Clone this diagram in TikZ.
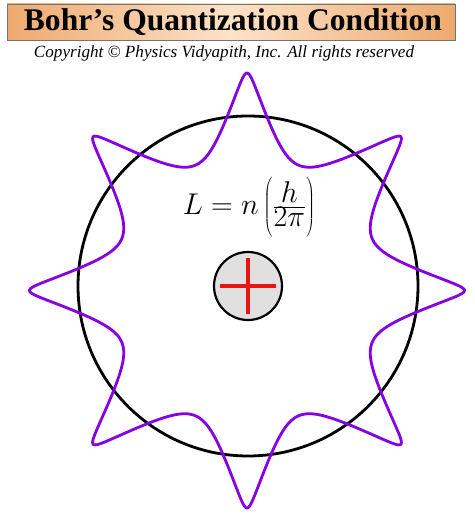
\RequirePackage{fix-cm}
\documentclass[tikz,border=0pt]{standalone}
\usepackage{fontspec}
\setmainfont{Liberation Serif}
\usepackage{graphicx}
\begin{document}
\begin{tikzpicture}[x=1pt,y=1pt,
  orbit/.style={draw=black,line width=2.8pt,circle,minimum size=340pt,inner sep=0pt},
  wave/.style={draw={rgb,255:red,135;green,0;blue,225},line width=2.8pt},
  nucl/.style={draw=black,line width=2.2pt,circle,fill=black!12,minimum size=68pt,inner sep=0pt},
  cross/.style={draw={rgb,255:red,235;green,20;blue,20},line width=3.2pt}]
\useasboundingbox (0,0) rectangle (474,516);
\fill[white] (0,0) rectangle (474,516);
% title box
\shade[left color={rgb,255:red,238;green,170;blue,110},right color={rgb,255:red,238;green,170;blue,110},middle color={rgb,255:red,252;green,226;blue,200}] (7,476) rectangle (455,512);
\draw[black!55,line width=0.8pt] (7,476) rectangle (455,512);
\node (title) at (233,494) {\resizebox{418pt}{!}{\bfseries Bohr’s Quantization Condition}};
\node (copyright) at (224,463) {\resizebox{380pt}{!}{\itshape Copyright © Physics Vidyapith, Inc. All rights reserved}};
% orbit
\node[orbit] (orbit) at (248,230) {};
% standing wave
\draw[wave] plot[domain=0:360,samples=721,smooth] ({247+(176.5+41*cos(8*\x))*cos(\x-5*sin(8*\x))},{225.5+(176.5+41*cos(8*\x))*sin(\x-5*sin(8*\x))}) -- cycle;
% formula
\node[inner sep=0pt] (formula) at (249,309) {\fontsize{30}{34}\selectfont $L = n\left(\rule[-22.5pt]{0pt}{60pt}\frac{\displaystyle h}{\displaystyle 2\pi}\right)$};
% nucleus
\node[nucl] (nucleus) at (248,230) {};
\draw[cross] ([xshift=-28pt]nucleus.center) -- ([xshift=28pt]nucleus.center);
\draw[cross] ([yshift=-28pt]nucleus.center) -- ([yshift=28pt]nucleus.center);
\end{tikzpicture}
\end{document}
